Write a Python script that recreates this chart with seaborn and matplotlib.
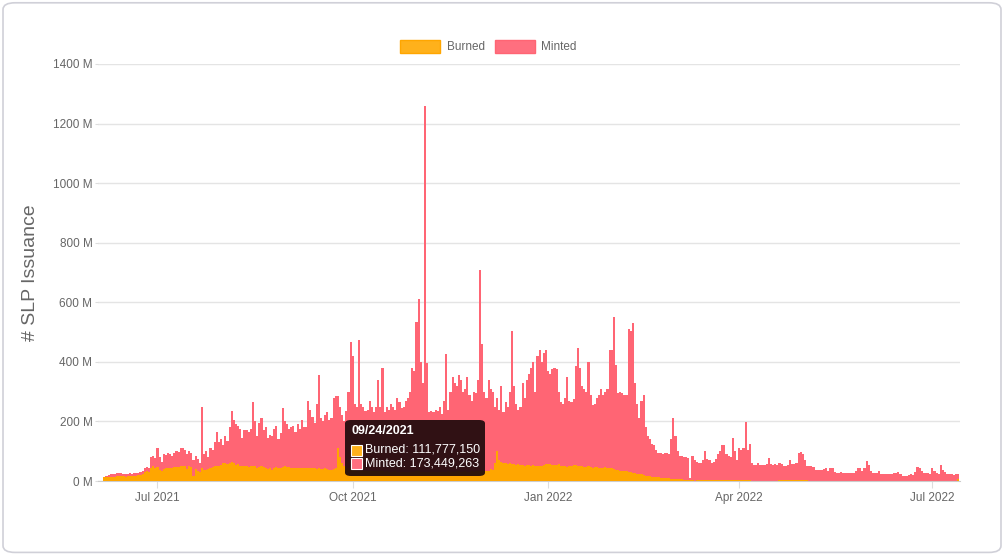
import matplotlib

matplotlib.use("Agg")

import matplotlib.dates as mdates
import matplotlib.pyplot as plt
import numpy as np
import pandas as pd
import seaborn as sns
from matplotlib.patches import FancyBboxPatch, Rectangle

plt.rcParams["font.family"] = "Liberation Sans"

# Daily SLP issuance in millions, starting 2021-06-06.
# total_issued = height of the stacked bar (burned + minted)
start_date = "2021-06-06"
total_issued = [
    15, 18, 20, 22, 25, 24, 27, 26, 28, 25,
    22, 24, 26, 25, 27, 26, 28, 30, 35, 45,
    48, 42, 80, 85, 78, 110, 82, 65, 90, 88,
    95, 92, 85, 93, 100, 98, 112, 110, 105, 90,
    100, 95, 70, 85, 75, 60, 248, 90, 100, 80,
    110, 105, 130, 165, 130, 140, 120, 150, 135, 180,
    235, 205, 190, 185, 175, 145, 170, 170, 165, 175,
    265, 200, 150, 195, 210, 170, 180, 145, 155, 150,
    175, 185, 140, 160, 245, 200, 190, 175, 180, 185,
    165, 190, 175, 205, 180, 180, 270, 240, 215, 195,
    260, 355, 210, 200, 220, 230, 205, 210, 280, 285,
    285, 250, 220, 200, 235, 300, 465, 420, 260, 250,
    475, 260, 250, 235, 240, 270, 250, 230, 250, 340,
    250, 380, 230, 250, 240, 260, 250, 240, 280, 265,
    245, 250, 270, 280, 300, 380, 370, 535, 610, 400,
    330, 1260, 395, 230, 235, 230, 240, 235, 250, 225,
    270, 425, 240, 300, 350, 330, 320, 355, 340, 300,
    310, 350, 290, 270, 300, 295, 340, 710, 460, 300,
    280, 340, 310, 300, 250, 280, 240, 320, 230, 265,
    250, 300, 505, 320, 260, 240, 250, 330, 280, 340,
    360, 380, 400, 300, 420, 440, 400, 430, 440, 370,
    360, 375, 380, 375, 300, 265, 260, 280, 350, 270,
    265, 275, 385, 445, 380, 320, 310, 300, 400, 290,
    255, 260, 280, 290, 310, 290, 300, 310, 440, 440,
    550, 390, 295, 300, 295, 290, 290, 510, 505, 530,
    330, 260, 210, 270, 290, 180, 150, 140, 125, 120,
    105, 95, 95, 90, 95, 95, 90, 140, 210, 150,
    100, 85, 85, 80, 80, 78, 10, 85, 70, 65,
    60, 62, 70, 100, 75, 70, 60, 65, 75, 90,
    100, 120, 120, 90, 85, 80, 145, 100, 70, 110,
    105, 110, 198, 105, 125, 60, 55, 55, 60, 55,
    55, 55, 56, 78, 56, 55, 56, 55, 62, 58,
    52, 52, 55, 70, 56, 56, 60, 95, 98, 90,
    70, 52, 50, 50, 48, 37, 37, 37, 38, 40,
    45, 35, 45, 44, 30, 28, 28, 30, 28, 27,
    28, 28, 27, 28, 35, 45, 44, 32, 45, 67,
    54, 35, 28, 27, 28, 32, 25, 25, 24, 25,
    24, 25, 26, 28, 30, 25, 18, 17, 18, 20,
    22, 20, 30, 48, 42, 34, 28, 27, 28, 25,
    43, 34, 28, 22, 53, 37, 30, 25, 22, 22,
    20, 22, 22,
]
burned = [
    12, 13, 14, 14, 15, 15, 16, 16, 17, 16,
    15, 16, 17, 17, 18, 18, 19, 20, 22, 30,
    35, 30, 45, 50, 42, 48, 38, 35, 40, 42,
    44, 45, 43, 46, 48, 47, 50, 49, 52, 40,
    50, 48, 18, 40, 35, 30, 42, 38, 36, 40,
    45, 48, 50, 52, 50, 55, 60, 62, 58, 60,
    65, 60, 55, 58, 52, 50, 52, 50, 48, 50,
    52, 50, 45, 48, 50, 47, 45, 40, 42, 38,
    45, 48, 42, 45, 48, 50, 47, 46, 44, 45,
    42, 44, 43, 45, 44, 42, 45, 44, 43, 42,
    40, 42, 41, 40, 42, 40, 38, 36, 40, 42,
    111.8, 80, 60, 50, 45, 42, 40, 38, 36, 35,
    34, 35, 33, 34, 35, 33, 32, 34, 33, 32,
    32, 33, 31, 32, 30, 31, 30, 32, 31, 30,
    30, 31, 30, 29, 30, 31, 30, 32, 33, 30,
    30, 31, 30, 29, 30, 31, 30, 29, 30, 31,
    30, 31, 32, 30, 31, 30, 32, 33, 31, 30,
    32, 31, 30, 32, 31, 33, 32, 34, 33, 32,
    35, 34, 40, 38, 60, 100, 70, 65, 62, 60,
    58, 60, 57, 58, 55, 56, 55, 54, 52, 55,
    53, 52, 54, 50, 51, 50, 52, 55, 56, 57,
    56, 55, 54, 55, 56, 52, 50, 52, 48, 50,
    52, 54, 53, 52, 50, 52, 48, 47, 50, 46,
    45, 48, 46, 45, 44, 45, 46, 44, 43, 42,
    40, 38, 36, 35, 34, 33, 32, 30, 30, 28,
    26, 25, 24, 22, 20, 18, 17, 16, 15, 14,
    13, 12, 11, 10, 10, 9, 9, 8, 8, 7,
    7, 6, 6, 5, 5, 5, 4, 4, 1, 4,
    4, 3, 3, 3, 3, 3, 2, 2, 2, 2,
    2, 2, 2, 2, 2, 2, 2, 2, 2, 2,
    2, 2, 2, 2, 2, 1, 1, 1, 1, 1,
    1, 1, 1, 1, 1, 1, 1, 1, 2, 2,
    2, 2, 2, 2, 2, 2, 2, 2, 2, 2,
    2, 2, 1, 1, 1, 1, 1, 1, 1, 1,
    1, 1, 1, 1, 1, 1, 1, 1, 1, 1,
    1, 1, 1, 1, 1, 1, 1, 1, 1, 1,
    1, 1, 1, 1, 1, 1, 1, 1, 1, 1,
    1, 1, 1, 1, 1, 1, 1, 1, 1, 1,
    1, 1, 1, 1, 1, 1, 1, 1, 1, 1,
    1, 1, 1, 1, 1, 1, 1, 1, 1, 1,
    1, 1, 8,
]
y_ticks = [0, 200, 400, 600, 800, 1000, 1200, 1400]
x_tick_dates = ["2021-07-01", "2021-10-01", "2022-01-01", "2022-04-01", "2022-07-01"]
x_tick_labels = ["Jul 2021", "Oct 2021", "Jan 2022", "Apr 2022", "Jul 2022"]

RED = "#ff6574"
ORANGE = "#ffa600"
GRAY = "#666666"

dates = pd.date_range(start_date, periods=len(total_issued), freq="D")
df = pd.DataFrame({
    "day": mdates.date2num(dates),
    "total": total_issued,
    "burned": burned,
})

fig = plt.figure(figsize=(10.04, 5.58), dpi=100)
card = FancyBboxPatch((0.003, 0.01), 0.994, 0.985, boxstyle="round,pad=0,rounding_size=0.012",
                      transform=fig.transFigure, facecolor="white", edgecolor="#d0d0d8", lw=1.2, zorder=-5)
fig.patches.append(card)
ax = fig.add_axes([98 / 1004, 1 - 481 / 558, 862 / 1004, 417 / 558])
ax.set_facecolor("none")

sns.barplot(data=df, x="day", y="total", native_scale=True, color=RED, width=1.0,
            saturation=1, linewidth=0, ax=ax, zorder=2)
sns.barplot(data=df, x="day", y="burned", native_scale=True, color=ORANGE, width=1.0,
            saturation=1, linewidth=0, ax=ax, zorder=3)

ax.set_ylim(0, 1400)
ax.set_xlim(df["day"].iloc[0] - 3, df["day"].iloc[-1] + 1)
ax.set_yticks(y_ticks)
ax.set_yticklabels([f"{v} M" for v in y_ticks])
ax.set_xticks(mdates.date2num(pd.to_datetime(x_tick_dates)))
ax.set_xticklabels(x_tick_labels)
ax.grid(axis="y", color="#e4e4e4", lw=1, zorder=0)
ax.set_axisbelow(True)
ax.tick_params(axis="y", colors="#dddddd", labelcolor=GRAY, labelsize=8.5, length=2, pad=2)
ax.tick_params(axis="x", colors="#dddddd", labelcolor=GRAY, labelsize=8.5, length=5, pad=3)
for side in ["top", "right", "left"]:
    ax.spines[side].set_visible(False)
ax.spines["bottom"].set_color("#cccccc")
ax.set_xlabel("")
ax.set_ylabel("# SLP Issuance", fontsize=14, color=GRAY, labelpad=10)

# legend
fig.patches.append(Rectangle((400 / 1004, 1 - 53 / 558), 40 / 1004, 13 / 558, transform=fig.transFigure,
                             facecolor="#ffb11b", edgecolor=ORANGE))
fig.text(447 / 1004, 1 - 47 / 558, "Burned", fontsize=8.5, color=GRAY, va="center")
fig.patches.append(Rectangle((495 / 1004, 1 - 53 / 558), 40 / 1004, 13 / 558, transform=fig.transFigure,
                             facecolor="#ff6f7f", edgecolor=RED))
fig.text(541 / 1004, 1 - 47 / 558, "Minted", fontsize=8.5, color=GRAY, va="center")

# hover tooltip for 09/24/2021
fig.patches.append(FancyBboxPatch((345 / 1004, 1 - 476 / 558), 140 / 1004, 56 / 558,
                                  boxstyle="round,pad=0,rounding_size=0.006", transform=fig.transFigure,
                                  facecolor="#1e0a0c", edgecolor="none", alpha=0.92, zorder=10))
fig.text(351 / 1004, 1 - 431 / 558, "09/24/2021", fontsize=9, color="white", weight="bold",
         va="center", zorder=11)
fig.patches.append(Rectangle((351 / 1004, 1 - 456 / 558), 11 / 1004, 11 / 558, transform=fig.transFigure,
                             facecolor="#ffb11b", edgecolor="white", lw=0.8, zorder=11))
fig.text(365 / 1004, 1 - 450 / 558, f"Burned: {111777150:,}", fontsize=9, color="white",
         va="center", zorder=11)
fig.patches.append(Rectangle((351 / 1004, 1 - 469 / 558), 11 / 1004, 11 / 558, transform=fig.transFigure,
                             facecolor="#ff6f7f", edgecolor="white", lw=0.8, zorder=11))
fig.text(365 / 1004, 1 - 463 / 558, f"Minted: {173449263:,}", fontsize=9, color="white",
         va="center", zorder=11)

fig.savefig("out.png", dpi=100)
